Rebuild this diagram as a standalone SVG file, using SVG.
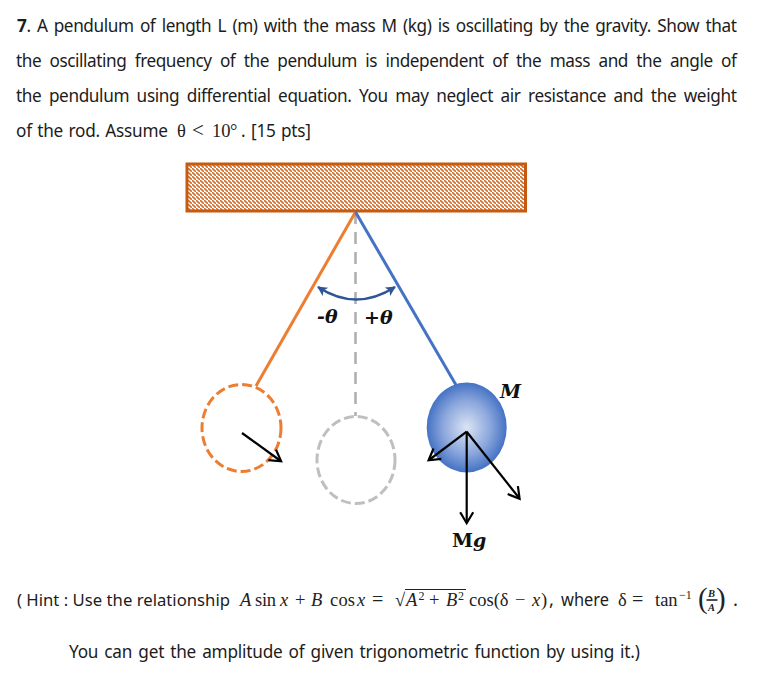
<svg xmlns="http://www.w3.org/2000/svg" width="766" height="693" viewBox="0 0 766 693">
<style>
.t{font-family:"Noto Sans","Open Sans",sans-serif;font-size:17.2px;fill:#1c1c1c}
.h{font-family:"Noto Sans","Open Sans",sans-serif;font-size:18.5px;fill:#1c1c1c}
.m{font-family:"Liberation Serif",serif;font-size:18.5px;fill:#222}
.i{font-style:italic}
.sup{font-size:12px}
.par{font-size:29px}
.fr{font-size:10.5px;font-style:italic;font-weight:bold}
.l{font-family:"DejaVu Serif",serif;font-weight:bold;font-size:19px;fill:#111}
.f{stroke:#000;stroke-width:2.2;fill:none}
</style>
<defs>
<pattern id="hatch" width="4" height="4" patternUnits="userSpaceOnUse">
<rect width="4" height="4" fill="#fff"/>
<path d="M-1,1 L1,-1 M-1,-1 L5,5 M3,5 L5,3" stroke="#d0702e" stroke-width="1.6" fill="none"/>
</pattern>
<radialGradient id="ball" cx="50%" cy="50%" r="50%">
<stop offset="0" stop-color="#dbe4f4"/>
<stop offset="0.6" stop-color="#8aa6dc"/>
<stop offset="1" stop-color="#4472c4"/>
</radialGradient>
<marker id="open" markerWidth="12" markerHeight="12" refX="9.5" refY="5" orient="auto" markerUnits="userSpaceOnUse" overflow="visible">
<path d="M-1,-1.5 L10,5 L-1,11.5" fill="none" stroke="#000" stroke-width="2.2"/>
</marker>
<marker id="arc" markerWidth="12" markerHeight="12" refX="9" refY="5" orient="auto-start-reverse" markerUnits="userSpaceOnUse">
<path d="M0,0 L10,5 L0,10 L2.5,5 Z" fill="#2f5597"/>
</marker>
</defs>
<g id="question">
<text class="t" x="17" y="32" textLength="720" word-spacing="2.2" letter-spacing="0.1"><tspan font-weight="bold">7</tspan>. A pendulum of length L (m) with the mass M (kg) is oscillating by the gravity. Show that</text>
<text class="t" x="16" y="67" textLength="721" word-spacing="4.4" letter-spacing="0.1">the oscillating frequency of the pendulum is independent of the mass and the angle of</text>
<text class="t" x="16" y="102" textLength="721" word-spacing="3.4" letter-spacing="0.1">the pendulum using differential equation. You may neglect air resistance and the weight</text>
<text class="t" x="16" y="137" textLength="152" word-spacing="1">of the rod. Assume</text>
<text class="m" x="177" y="137">θ</text>
<text class="m" x="192" y="137" style="font-size:21px">&lt;</text>
<text class="m" x="212" y="137">10</text>
<text class="m" x="230" y="137">°</text>
<text class="t" x="241" y="137">.</text>
<text class="t" x="251" y="137" textLength="60" word-spacing="1">[15 pts]</text>
</g>
<g id="ceiling">
<rect x="187" y="164" width="338.5" height="47" fill="url(#hatch)" stroke="#c55a11" stroke-width="3"/>
</g>
<g id="connectors">
<path d="M355.5,212 V416" stroke="#b0b0b0" stroke-width="2.6" fill="none" stroke-dasharray="12 8"/>
<path d="M355.5,212 L256,386" stroke="#ed7d31" stroke-width="3" fill="none"/>
<path d="M355.5,212 L456,385" stroke="#4472c4" stroke-width="3" fill="none"/>
<path d="M318,287 Q356,312 395,287" stroke="#2f5597" stroke-width="2.6" fill="none" marker-start="url(#arc)" marker-end="url(#arc)"/>
</g>
<g id="bob-left">
<ellipse cx="241.5" cy="428" rx="39.5" ry="43.5" fill="none" stroke="#ed7d31" stroke-width="3" stroke-dasharray="10 4"/>
<path class="f" d="M242,433 L280.7,461" marker-end="url(#open)"/>
</g>
<g id="bob-center">
<ellipse cx="356" cy="460" rx="39" ry="43.5" fill="none" stroke="#bfbfbf" stroke-width="3" stroke-dasharray="10 4"/>
</g>
<g id="bob-right">
<ellipse cx="466.7" cy="427.5" rx="40" ry="45" fill="url(#ball)"/>
<path class="f" d="M466.7,431.7 L429,460" marker-end="url(#open)"/>
<path class="f" d="M466.7,431.7 V522.7" marker-end="url(#open)"/>
<path class="f" d="M466.7,431.7 L519.3,498.3" marker-end="url(#open)"/>
</g>
<g id="labels">
<text class="l" x="317" y="323" font-style="italic">-θ</text>
<text class="l" x="364" y="324" font-style="italic">+θ</text>
<text class="l" x="500" y="398" font-style="italic">M</text>
<text class="l" x="452" y="547">M<tspan font-style="italic">g</tspan></text>
</g>
<g id="hint">
<text class="h" x="17" y="606" textLength="213" lengthAdjust="spacingAndGlyphs" style="font-size:17px">( Hint : Use the relationship</text>
<text class="m i" x="240" y="606">A</text>
<text class="m" x="255" y="606" textLength="21">sin</text>
<text class="m i" x="280" y="606">x</text>
<text class="m" x="295" y="606">+</text>
<text class="m i" x="311" y="606">B</text>
<text class="m" x="330" y="606" textLength="25">cos</text>
<text class="m i" x="357" y="606">x</text>
<text class="m" x="372" y="606" style="font-size:20px">=</text>
<text class="m" x="395" y="606">√</text>
<path d="M405,589.5 H466" stroke="#222" stroke-width="1.2" fill="none"/>
<text class="m i" x="406" y="606">A</text>
<text class="m sup" x="418.5" y="600">2</text>
<text class="m" x="429" y="606">+</text>
<text class="m i" x="446" y="606">B</text>
<text class="m sup" x="458" y="600">2</text>
<text class="m" x="469" y="606">cos(δ</text>
<text class="m" x="515" y="606">−</text>
<text class="m i" x="532" y="606">x</text>
<text class="m" x="541" y="606">)</text>
<text class="h" x="549" y="606">,</text>
<text class="h" x="561" y="606" textLength="48" lengthAdjust="spacingAndGlyphs">where</text>
<text class="m" x="618" y="606">δ</text>
<text class="m" x="632" y="606" style="font-size:20px">=</text>
<text class="m" x="655" y="606">tan</text>
<text class="m sup" x="679" y="599">−1</text>
<text class="m par" x="698" y="608">(</text>
<text class="m par" x="716" y="608">)</text>
<text class="m fr" x="708" y="597">B</text>
<path d="M706.5,600 H717.5" stroke="#222" stroke-width="1.6" fill="none"/>
<text class="m fr" x="708" y="611">A</text>
<text class="h" x="733" y="606">.</text>
<text class="t" x="69" y="658" textLength="571" word-spacing="1.8" letter-spacing="0.1">You can get the amplitude of given trigonometric function by using it.)</text>
</g>
</svg>
